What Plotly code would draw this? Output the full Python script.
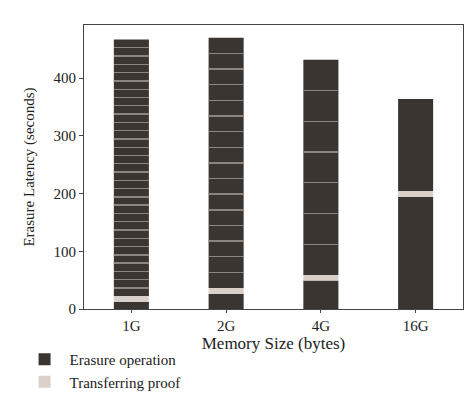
import plotly.graph_objects as go

# memory sizes and measured pieces of each bar (seconds)
sizes = ["1G", "2G", "4G", "16G"]
first_chunk = [12, 26.5, 49.5, 194]     # erasure before the proof
proof_time = [10, 9.8, 9.3, 10]         # transferring proof
round_time = [14.35, 27.1, 53.3, 160]   # erasure per later round
rounds = [31, 16, 7, 1]

DARK = "#3b3531"
LIGHT = "#d9d0ca"
GAP = 0.7  # thin light separator between rounds

er_x, er_y, er_base = [], [], []
sep_x, sep_y, sep_base = [], [], []
pr_x, pr_y, pr_base = [], [], []
for s, f, p, r, n in zip(sizes, first_chunk, proof_time, round_time, rounds):
    er_x.append(s); er_y.append(f); er_base.append(0)
    pr_x.append(s); pr_y.append(p); pr_base.append(f)
    b = f + p
    for i in range(n):
        er_x.append(s); er_y.append(r); er_base.append(b)
        if i < n - 1:
            sep_x.append(s); sep_y.append(GAP); sep_base.append(b + r - GAP / 2)
        b += r

fig = go.Figure()
fig.add_trace(go.Bar(x=er_x, y=er_y, base=er_base, name="Erasure operation",
                     marker=dict(color=DARK, line=dict(width=0)), width=0.37))
fig.add_trace(go.Bar(x=pr_x, y=pr_y, base=pr_base, name="Transferring proof",
                     marker=dict(color=LIGHT, line=dict(width=0)), width=0.37))
fig.add_trace(go.Bar(x=sep_x, y=sep_y, base=sep_base, showlegend=False,
                     marker=dict(color="#8d8580", line=dict(width=0)), width=0.37))

fig.update_layout(
    barmode="overlay",
    width=474, height=412,
    paper_bgcolor="white", plot_bgcolor="white",
    font=dict(family="Liberation Serif", size=14, color="#222"),
    margin=dict(l=70, r=19, t=17, b=111),
    legend=dict(x=-0.17, y=-0.12, xanchor="left", yanchor="top",
                traceorder="normal", itemwidth=40, font=dict(size=15)),
    xaxis=dict(title=dict(text="Memory Size (bytes)", standoff=0),
               showline=True, linecolor="#444", mirror=True,
               ticks="outside", ticklen=3, tickcolor="#444",
               tickfont=dict(size=15)),
    yaxis=dict(title=dict(text="Erasure Latency (seconds)", font=dict(size=15)),
               range=[0, 492], tickvals=[0, 100, 200, 300, 400],
               showgrid=False, zeroline=False,
               showline=True, linecolor="#444", mirror=True,
               ticks="outside", ticklen=4, tickcolor="#444",
               tickfont=dict(size=15)),
)

fig.write_html("out.html")
